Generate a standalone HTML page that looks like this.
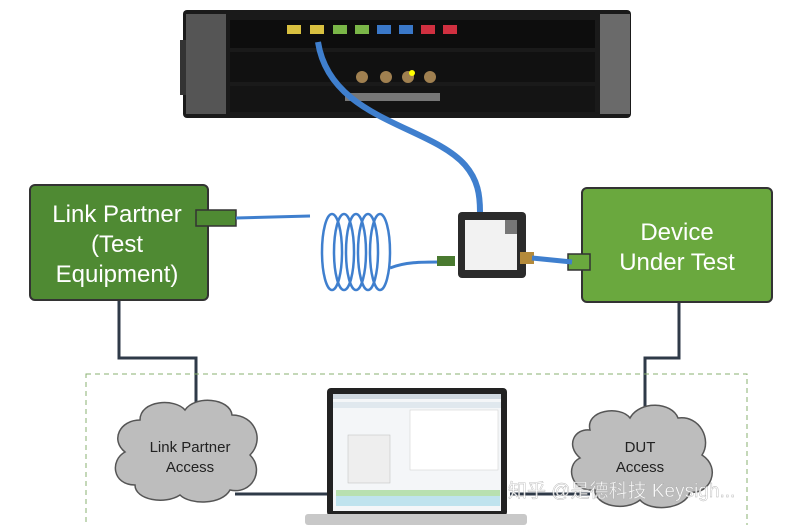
<!DOCTYPE html>
<html><head><meta charset="utf-8"><style>
body{margin:0;width:807px;height:525px;background:#fff;overflow:hidden;font-family:"Liberation Sans",sans-serif}
svg{display:block}
</style></head><body>
<svg width="807" height="525" viewBox="0 0 807 525">
<!-- chassis -->
<rect x="183" y="10" width="448" height="108" rx="4" fill="#1a1a1a"/>
<rect x="186" y="14" width="40" height="100" fill="#555"/>
<rect x="600" y="14" width="30" height="100" fill="#6a6a6a"/>
<rect x="230" y="20" width="365" height="28" fill="#0d0d0d"/>
<rect x="230" y="52" width="365" height="30" fill="#111"/>
<rect x="230" y="86" width="365" height="26" fill="#141414"/>
<g>
<rect x="287" y="25" width="14" height="9" fill="#d8c040"/><rect x="310" y="25" width="14" height="9" fill="#d8c040"/>
<rect x="333" y="25" width="14" height="9" fill="#7ab648"/><rect x="355" y="25" width="14" height="9" fill="#7ab648"/>
<rect x="377" y="25" width="14" height="9" fill="#3a78c8"/><rect x="399" y="25" width="14" height="9" fill="#3a78c8"/>
<rect x="421" y="25" width="14" height="9" fill="#d03040"/><rect x="443" y="25" width="14" height="9" fill="#d03040"/>
</g>
<g fill="#a08050"><circle cx="362" cy="77" r="6"/><circle cx="386" cy="77" r="6"/><circle cx="408" cy="77" r="6"/><circle cx="430" cy="77" r="6"/></g>
<circle cx="412" cy="73" r="3" fill="#ff0"/>
<rect x="345" y="93" width="50" height="8" fill="#777"/><rect x="390" y="93" width="50" height="8" fill="#777"/>
<rect x="180" y="40" width="6" height="55" fill="#333"/>
<!-- cable to instrument -->
<path d="M318,42 C330,120 430,125 465,165 C478,180 480,195 480,212" fill="none" stroke="#3f7fce" stroke-width="6"/>
<!-- connectors lines -->
<g fill="none" stroke="#2f3a48" stroke-width="3">
<polyline points="119,300 119,358 196,358 196,415"/>
<polyline points="679,302 679,358 645,358 645,420"/>
<line x1="235" y1="494" x2="330" y2="494"/>
<line x1="510" y1="494" x2="590" y2="494"/>
</g>
<!-- dashed region -->
<rect x="86" y="374" width="661" height="160" fill="none" stroke="#8ab070" stroke-width="1" stroke-dasharray="5,4"/>
<!-- boxes -->
<rect x="30" y="185" width="178" height="115" rx="5" fill="#4f8a33" stroke="#333" stroke-width="2"/>
<text fill="#fff" font-size="24" text-anchor="middle"><tspan x="117" y="222">Link Partner</tspan><tspan x="117" y="252">(Test</tspan><tspan x="117" y="282">Equipment)</tspan></text>
<rect x="582" y="188" width="190" height="114" rx="5" fill="#6aa83e" stroke="#333" stroke-width="2"/>
<text fill="#fff" font-size="24" text-anchor="middle"><tspan x="677" y="240">Device</tspan><tspan x="677" y="270">Under Test</tspan></text>
<!-- green connectors -->
<rect x="196" y="210" width="40" height="16" fill="#4f8a33" stroke="#333" stroke-width="1.5"/>
<rect x="568" y="254" width="22" height="16" fill="#6aa83e" stroke="#333" stroke-width="1.5"/>
<!-- coil cable -->
<path d="M236,218 L310,216" stroke="#3f7fce" stroke-width="3" fill="none"/>
<g fill="none" stroke="#3f7fce" stroke-width="2.5">
<ellipse cx="332" cy="252" rx="10" ry="38"/><ellipse cx="344" cy="252" rx="10" ry="38"/><ellipse cx="356" cy="252" rx="10" ry="38"/><ellipse cx="368" cy="252" rx="10" ry="38"/><ellipse cx="380" cy="252" rx="10" ry="38"/>
</g>
<path d="M390,268 C405,262 420,262 442,262" stroke="#3f7fce" stroke-width="3" fill="none"/>
<rect x="437" y="256" width="18" height="10" fill="#4a7a30"/>
<!-- small device -->
<rect x="458" y="212" width="68" height="66" rx="4" fill="#2b2b2b"/>
<rect x="465" y="220" width="52" height="50" fill="#f2f2f2"/>
<rect x="505" y="220" width="12" height="14" fill="#777"/>
<rect x="520" y="252" width="14" height="12" fill="#b48a3a"/>
<path d="M532,258 L572,262" stroke="#3f7fce" stroke-width="5"/>
<!-- clouds -->
<g fill="#bdbdbd" stroke="#555" stroke-width="1.5">
<path d="M140,420 C140,400 175,398 185,410 C195,395 230,398 232,415 C255,415 265,440 250,455 C265,470 252,495 230,490 C222,505 190,505 180,495 C165,505 135,500 135,485 C112,485 110,460 125,452 C110,440 120,420 140,420 Z"/>
<path d="M590,430 C585,410 620,405 630,418 C640,400 672,402 678,418 C700,415 712,440 702,455 C722,468 710,495 690,492 C685,510 650,512 640,500 C625,512 595,506 595,490 C570,492 565,465 580,458 C565,445 575,428 590,430 Z"/>
</g>
<text fill="#222" font-size="15" text-anchor="middle"><tspan x="190" y="452">Link Partner</tspan><tspan x="190" y="472">Access</tspan></text>
<text fill="#222" font-size="15" text-anchor="middle"><tspan x="640" y="452">DUT</tspan><tspan x="640" y="472">Access</tspan></text>
<!-- laptop -->
<rect x="327" y="388" width="180" height="128" rx="4" fill="#222"/>
<rect x="333" y="394" width="168" height="117" fill="#f4f6f8"/>
<rect x="333" y="394" width="168" height="5" fill="#cfd8e0"/>
<rect x="333" y="402" width="168" height="6" fill="#e0e8ee"/>
<rect x="410" y="410" width="88" height="60" fill="#fff" stroke="#ccc" stroke-width="0.5"/>
<rect x="348" y="435" width="42" height="48" fill="#eee" stroke="#bbb" stroke-width="0.5"/>
<rect x="336" y="490" width="164" height="6" fill="#b8e0b0"/>
<rect x="336" y="496" width="164" height="10" fill="#bfe3ee"/>
<rect x="305" y="514" width="222" height="11" rx="3" fill="#c8c8c8"/>
<!-- watermark -->
<text x="508" y="497" font-size="19" fill="#fff" stroke="#aaa" stroke-width="0.4" font-family="'Liberation Sans','Noto Sans CJK SC',sans-serif" opacity="0.9">知乎 @是德科技 Keysigh...</text>
</svg>
</body></html>
